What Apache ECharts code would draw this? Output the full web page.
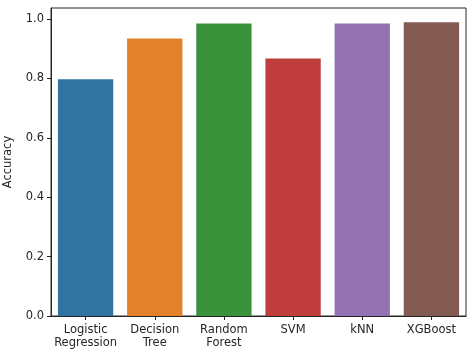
<!DOCTYPE html>
<html><head><meta charset="utf-8">
<script src="https://cdn.jsdelivr.net/npm/echarts@6/dist/echarts.min.js"></script>
<style>html,body{margin:0;padding:0;background:#fff}#c{width:474px;height:358px}</style>
</head><body><div id="c"></div>
<script>
const categories = ["Logistic\nRegression", "Decision\nTree", "Random\nForest", "SVM", "kNN", "XGBoost"];
const accuracy = [0.797, 0.934, 0.985, 0.867, 0.985, 0.989];
const colors = ["#3274a1", "#e1812c", "#3a923a", "#c03d3e", "#9372b2", "#845b53"];
const yTicks = [0, 0.2, 0.4, 0.6, 0.8, 1.0];

const chart = echarts.init(document.getElementById('c'));
const font = 'DejaVu Sans';
chart.setOption({
  animation: false,
  grid: {left: 51, right: 8, top: 8, bottom: 42, show: true, borderColor: '#262626', borderWidth: 1,
         outerBoundsMode: 'none', containLabel: false},
  xAxis: {
    type: 'category', data: categories,
    axisLine: {lineStyle: {color: '#262626', width: 1}},
    axisTick: {show: true, alignWithLabel: true, length: 4, lineStyle: {color: '#262626'}},
    axisLabel: {interval: 0, color: '#262626', fontFamily: font, fontSize: 11.5, lineHeight: 13.5, margin: 7}
  },
  yAxis: {
    type: 'value', min: 0, max: 1.037,
    name: 'Accuracy', nameLocation: 'middle', nameGap: 37, nameRotate: 90,
    nameTextStyle: {color: '#262626', fontFamily: font, fontSize: 11.5},
    splitLine: {show: false},
    axisLine: {show: true, lineStyle: {color: '#262626', width: 1}},
    axisTick: {show: true, length: 4, lineStyle: {color: '#262626'}, customValues: yTicks},
    axisLabel: {color: '#262626', fontFamily: font, fontSize: 11.5, margin: 7, customValues: yTicks,
      formatter: v => v.toFixed(1)}
  },
  series: [{
    type: 'bar', barWidth: '80%',
    data: accuracy.map((v, i) => ({value: v, itemStyle: {color: colors[i]}}))
  }]
});
</script></body></html>
